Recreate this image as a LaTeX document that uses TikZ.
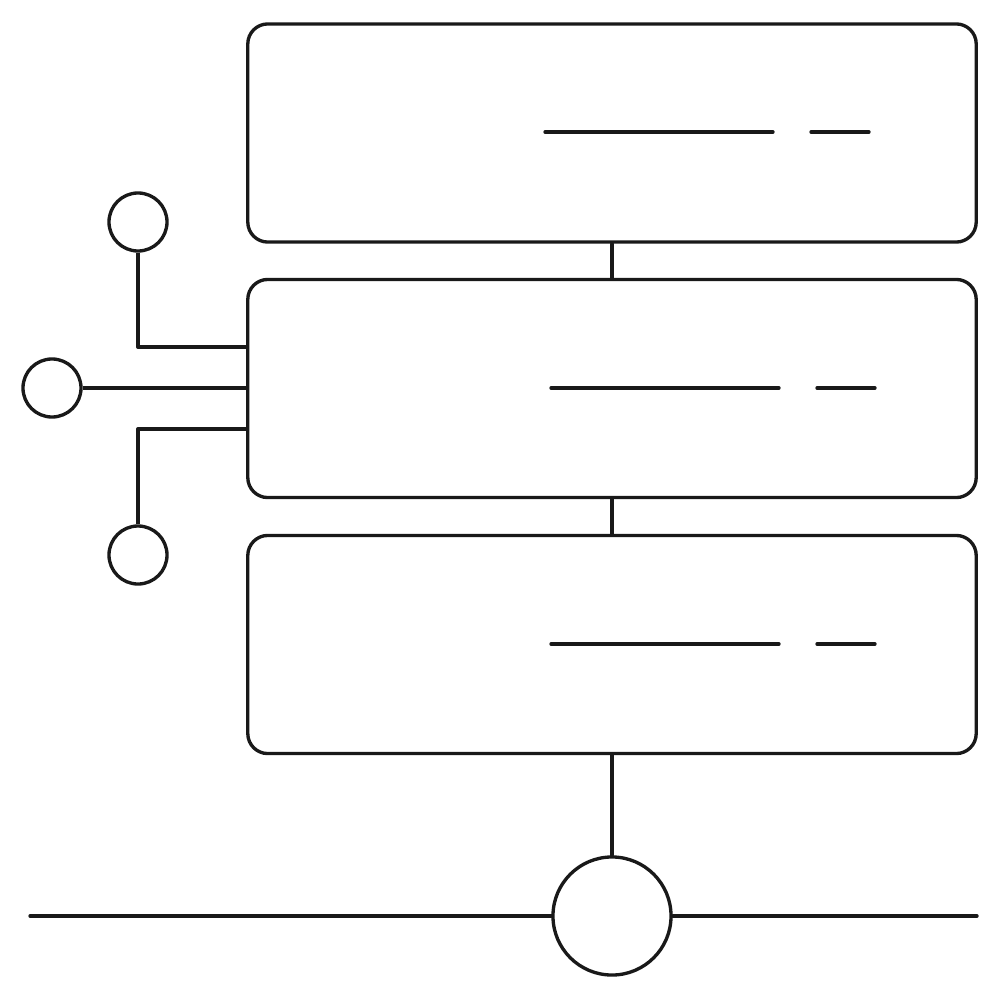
\documentclass[tikz,border=0pt]{standalone}
\begin{document}
\begin{tikzpicture}[x=0.01cm,y=-0.01cm,
  ln/.style={line width=0.95pt,draw=black!90,line cap=round,line join=round},
  srv/.style={ln,rectangle,rounded corners=0.2cm,minimum width=7.28cm,minimum height=2.18cm,inner sep=0pt},
  port/.style={ln,circle,minimum size=0.58cm,inner sep=0pt},
  hub/.style={ln,circle,minimum size=1.18cm,inner sep=0pt}]
\useasboundingbox[fill=white] (0,0) rectangle (1000,1000);
\node[srv] (b1) at (612,133) {};
\node[srv] (b2) at (612,388.5) {};
\node[srv] (b3) at (612,644.5) {};
\node[port] (c1) at (138,222) {};
\node[port] (c2) at (52,388) {};
\node[port] (c3) at (138,555) {};
\node[hub] (h) at (612,916) {};
\coordinate (busL) at (30,916);
\coordinate (busR) at (977,916);
% indicator lines
\draw[ln] (545,132) -- (773,132);
\draw[ln] (811,132) -- (869,132);
\draw[ln] (551,388) -- (779,388);
\draw[ln] (817,388) -- (875,388);
\draw[ln] (551,644) -- (779,644);
\draw[ln] (817,644) -- (875,644);
% stack connectors
\draw[ln] (b1.south) -- (b2.north);
\draw[ln] (b2.south) -- (b3.north);
\draw[ln] (b3.south) -- (h.north);
% side ports
\draw[ln,line cap=butt] (c1.south) |- (b2.west |- 0,347);
\draw[ln,line cap=butt] (c2.east) -- (b2.west |- c2);
\draw[ln,line cap=butt] (c3.north) |- (b2.west |- 0,429);
% bus
\draw[ln] (busL) -- (h.west);
\draw[ln] (h.east) -- (busR);
\end{tikzpicture}
\end{document}
